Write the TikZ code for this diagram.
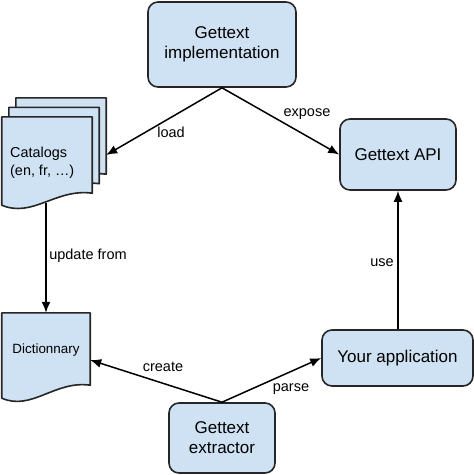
\documentclass[tikz,border=0pt]{standalone}
\usepackage{fontspec}
\setmainfont{Liberation Sans}
\usetikzlibrary{arrows.meta,calc}
\definecolor{boxfill}{HTML}{CFE2F3}
\definecolor{boxline}{HTML}{262626}
\tikzset{
  box/.style={draw=boxline, fill=boxfill, line width=1.6pt, rounded corners=10pt,
    inner sep=0pt, align=center, font=\fontsize{17}{20}\selectfont},
  docarea/.style={draw=none, inner sep=0pt},
  docshape/.style={draw=boxline, fill=boxfill, line width=1.6pt, line join=round},
  arr/.style={draw=black, line width=1.5pt, -{Latex[length=11pt,width=9pt]}},
  lbl/.style={font=\fontsize{14.5}{17}\selectfont, inner sep=0pt},
}
\begin{document}
\begin{tikzpicture}[x=1pt,y=-1pt]
\useasboundingbox (0,0) rectangle (474,475);
% nodes
\node[box, minimum width=148, minimum height=85] (impl) at (222,44.5) {Gettext\\implementation};
\node[box, minimum width=116, minimum height=71] (api) at (398,154.5) {Gettext API};
\node[box, minimum width=151, minimum height=56] (app) at (397.5,358) {Your application};
\node[box, minimum width=106, minimum height=70] (ext) at (222,438) {Gettext\\extractor};
\node[docarea, minimum width=90, minimum height=76] (cat) at (47,155) {};
\node[docarea, minimum width=88, minimum height=72] (dict) at (46,349) {};
% connectors
\draw[arr] (impl.south) -- ([xshift=14pt]cat.east);
\draw[arr] (impl.south) -- (api.west);
\draw[arr] ($(dict.north |- cat.south)+(0,10)$) -- (dict.north);
\draw[arr] (ext.north) -- ([yshift=-11pt]dict.east);
\draw[arr] (ext.north) -- (app.west);
\draw[arr] (api.south |- app.north) -- (api.south);
% document shapes
\foreach \dx/\dy in {14/-19, 7/-9.5, 0/0}{
  \path[docshape] ($(cat.north west)+(\dx,\dy)$) -- ($(cat.north east)+(\dx,\dy)$) -- ($(cat.south east)+(\dx,\dy)$)
    .. controls ($(cat.south west)+(54+\dx,-5+\dy)$) and ($(cat.south west)+(31+\dx,25+\dy)$) ..
    ($(cat.south west)+(\dx,12+\dy)$) -- cycle;
}
\path[docshape] (dict.north west) -- (dict.north east) -- (dict.south east)
    .. controls ($(dict.south west)+(53,-5)$) and ($(dict.south west)+(30,26)$) ..
    ($(dict.south west)+(0,13)$) -- cycle;
\node[anchor=west, align=left, inner sep=0pt, font=\fontsize{14.4}{18}\selectfont] (catlabel) at (10,163) {Catalogs\\(en, fr, …)};
\node[inner sep=0pt, font=\fontsize{13.4}{16}\selectfont] (dictlabel) at (46,350) {Dictionnary};
% labels
\node[lbl] (lload) at (171,132) {load};
\node[lbl] (lexpose) at (307,114) {expose};
\node[lbl] (lupdate) at (88,256) {update from};
\node[lbl] (lcreate) at (163,367) {create};
\node[lbl] (lparse) at (291,389) {parse};
\node[lbl] (luse) at (382,263) {use};
\end{tikzpicture}
\end{document}
